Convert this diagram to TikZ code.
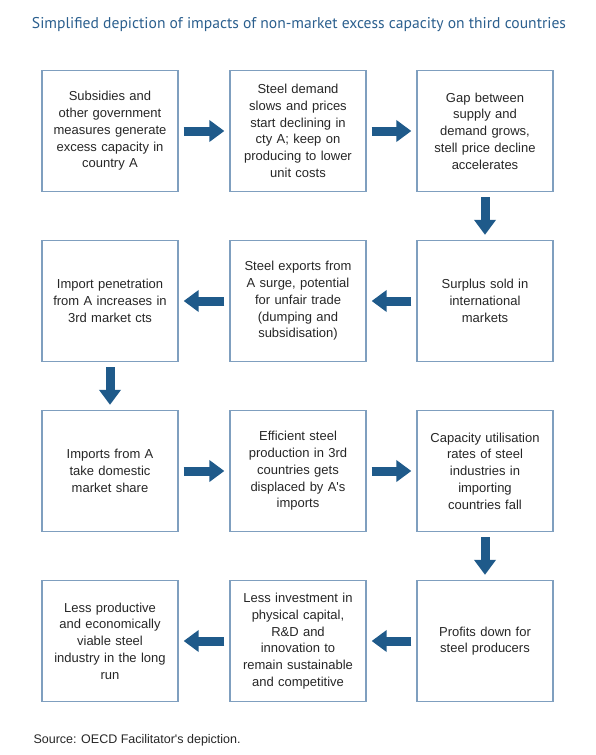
\documentclass[tikz,border=0pt]{standalone}
\usepackage{fontspec}
\setmainfont{Liberation Sans}
\newfontfamily\titlefont{PT Sans}
\usetikzlibrary{arrows.meta}
\definecolor{titleblue}{HTML}{2B5F8E}
\definecolor{arrowblue}{HTML}{1F5A8A}
\definecolor{boxline}{HTML}{7F9FBF}
\begin{document}
\begin{tikzpicture}[x=1pt,y=-1pt,
  flowbox/.style={draw=boxline, line width=1.3pt, minimum width=136pt, minimum height=121pt,
    text width=134pt, align=center, inner sep=0pt, font=\fontsize{13}{16.7}\selectfont, text=black!85},
  bigarrow/.style={draw=arrowblue, line width=9pt,
    -{Triangle[width=21pt,length=15pt]}, shorten <=5pt, shorten >=5pt}]
\useasboundingbox (0,0) rectangle (596,755);
\node[font=\titlefont\fontsize{15.6}{19}\selectfont, text=titleblue] (title) at (299,25)
  {Simplified depiction of impacts of non-market excess capacity on third countries};
% row 1
\node[flowbox] (a1) at (110,131) {Subsidies and\\ other government\\ measures generate\\ excess capacity in\\ country A};
\node[flowbox] (a2) at (298,131) {Steel demand\\ slows and prices\\ start declining in\\ cty A; keep on\\ producing to lower\\ unit costs};
\node[flowbox] (a3) at (485,131) {Gap between\\ supply and\\ demand grows,\\ stell price decline\\ accelerates};
% row 2
\node[flowbox] (b1) at (110,301) {Import penetration\\ from A increases in\\ 3rd market cts};
\node[flowbox] (b2) at (298,301) {Steel exports from\\ A surge, potential\\ for unfair trade\\ (dumping and\\ subsidisation)};
\node[flowbox] (b3) at (485,301) {Surplus sold in\\ international\\ markets};
% row 3
\node[flowbox] (c1) at (110,471) {Imports from A\\ take domestic\\ market share};
\node[flowbox] (c2) at (298,471) {Efficient steel\\ production in 3rd\\ countries gets\\ displaced by A\textquotesingle s\\ imports};
\node[flowbox] (c3) at (485,471) {Capacity utilisation\\ rates of steel\\ industries in\\ importing\\ countries fall};
% row 4
\node[flowbox] (d1) at (110,641) {Less productive\\ and economically\\ viable steel\\ industry in the long\\ run};
\node[flowbox] (d2) at (298,641) {Less investment in\\ physical capital,\\ R\&D and\\ innovation to\\ remain sustainable\\ and competitive};
\node[flowbox] (d3) at (485,641) {Profits down for\\ steel producers};
% arrows
\draw[bigarrow] (a1) -- (a2);
\draw[bigarrow] (a2) -- (a3);
\draw[bigarrow] (a3) -- (b3);
\draw[bigarrow] (b3) -- (b2);
\draw[bigarrow] (b2) -- (b1);
\draw[bigarrow] (b1) -- (c1);
\draw[bigarrow] (c1) -- (c2);
\draw[bigarrow] (c2) -- (c3);
\draw[bigarrow] (c3) -- (d3);
\draw[bigarrow] (d3) -- (d2);
\draw[bigarrow] (d2) -- (d1);
\node[anchor=west, font=\fontsize{12.5}{14}\selectfont, text=black!85] (src) at (30,740)
  {Source: OECD Facilitator\textquotesingle s depiction.};
\end{tikzpicture}
\end{document}
